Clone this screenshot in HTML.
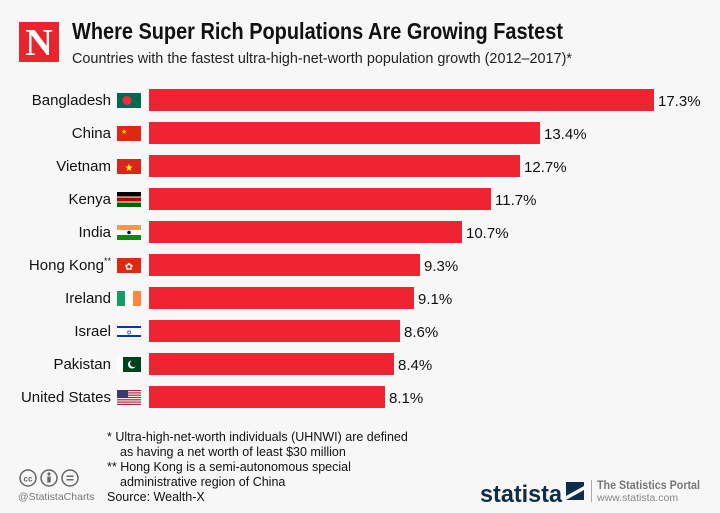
<!DOCTYPE html>
<html><head><meta charset="utf-8"><style>
html,body{margin:0;padding:0;background:#f7f7f7;}
svg{display:block;font-family:"Liberation Sans",sans-serif;}
</style></head><body>
<svg width="720" height="513" viewBox="0 0 720 513">
<rect width="720" height="513" fill="#f7f7f7"/>
<rect x="19" y="22" width="40" height="40" fill="#e8242f"/>
<text x="39" y="55" text-anchor="middle" font-family="Liberation Serif,serif" font-weight="bold" font-size="38" fill="#fff">N</text>
<text x="72" y="39" font-size="23" font-weight="bold" fill="#111" textLength="491" lengthAdjust="spacingAndGlyphs">Where Super Rich Populations Are Growing Fastest</text>
<text x="72" y="63" font-size="15" fill="#222" textLength="500" lengthAdjust="spacingAndGlyphs">Countries with the fastest ultra-high-net-worth population growth (2012–2017)*</text>
<g font-size="15" fill="#111">
<g>
<text x="111" y="105" text-anchor="end">Bangladesh</text>
<rect x="117" y="93" width="24" height="15" fill="#006a4e"/><circle cx="127" cy="100.5" r="4.5" fill="#f42a41"/>
<rect x="149" y="89" width="505" height="22" fill="#ee2432"/><text x="658" y="106">17.3%</text>
</g>
<g>
<text x="111" y="138" text-anchor="end">China</text>
<rect x="117" y="126" width="24" height="15" fill="#de2910"/><text x="121" y="134" font-size="7" fill="#ffde00">★</text>
<rect x="149" y="122" width="391" height="22" fill="#ee2432"/><text x="544" y="139">13.4%</text>
</g>
<g>
<text x="111" y="171" text-anchor="end">Vietnam</text>
<rect x="117" y="159" width="24" height="15" fill="#da251d"/><text x="129" y="171" font-size="10" fill="#ff0" text-anchor="middle">★</text>
<rect x="149" y="155" width="371" height="22" fill="#ee2432"/><text x="524" y="172">12.7%</text>
</g>
<g>
<text x="111" y="204" text-anchor="end">Kenya</text>
<rect x="117" y="192" width="24" height="5" fill="#000"/><rect x="117" y="197" width="24" height="5" fill="#b00"/><rect x="117" y="202" width="24" height="5" fill="#060"/>
<rect x="117" y="196.5" width="24" height="1" fill="#fff"/><rect x="117" y="201.5" width="24" height="1" fill="#fff"/>
<rect x="149" y="188" width="342" height="22" fill="#ee2432"/><text x="495" y="205">11.7%</text>
</g>
<g>
<text x="111" y="237" text-anchor="end">India</text>
<rect x="117" y="225" width="24" height="5" fill="#f93"/><rect x="117" y="230" width="24" height="5" fill="#fff"/><rect x="117" y="235" width="24" height="5" fill="#138808"/><circle cx="129" cy="232.5" r="1.8" fill="#008"/>
<rect x="149" y="221" width="313" height="22" fill="#ee2432"/><text x="466" y="238">10.7%</text>
</g>
<g>
<text x="111" y="270" text-anchor="end">Hong Kong<tspan font-size="9" dy="-6">**</tspan></text>
<rect x="117" y="258" width="24" height="15" fill="#de2910"/><text x="129" y="270" font-size="10" fill="#fff" text-anchor="middle">✿</text>
<rect x="149" y="254" width="271" height="22" fill="#ee2432"/><text x="424" y="271">9.3%</text>
</g>
<g>
<text x="111" y="303" text-anchor="end">Ireland</text>
<rect x="117" y="291" width="8" height="15" fill="#169b62"/><rect x="125" y="291" width="8" height="15" fill="#fff"/><rect x="133" y="291" width="8" height="15" fill="#ff883e"/>
<rect x="149" y="287" width="265" height="22" fill="#ee2432"/><text x="418" y="304">9.1%</text>
</g>
<g>
<text x="111" y="336" text-anchor="end">Israel</text>
<rect x="117" y="324" width="24" height="15" fill="#fff" stroke="#ddd" stroke-width="0.5"/><rect x="117" y="326" width="24" height="2" fill="#0038b8"/><rect x="117" y="335" width="24" height="2" fill="#0038b8"/><text x="129" y="335" font-size="7" fill="#0038b8" text-anchor="middle">✡</text>
<rect x="149" y="320" width="251" height="22" fill="#ee2432"/><text x="404" y="337">8.6%</text>
</g>
<g>
<text x="111" y="369" text-anchor="end">Pakistan</text>
<rect x="117" y="357" width="6" height="15" fill="#fff"/><rect x="123" y="357" width="18" height="15" fill="#01411c"/><circle cx="132" cy="364.5" r="4" fill="#fff"/><circle cx="133.5" cy="363.5" r="3.5" fill="#01411c"/>
<rect x="149" y="353" width="245" height="22" fill="#ee2432"/><text x="398" y="370">8.4%</text>
</g>
<g>
<text x="111" y="402" text-anchor="end">United States</text>
<rect x="117" y="390" width="24" height="15" fill="#fff"/>
<rect x="117" y="390" width="24" height="1.2" fill="#b22234"/><rect x="117" y="392.3" width="24" height="1.2" fill="#b22234"/><rect x="117" y="394.6" width="24" height="1.2" fill="#b22234"/><rect x="117" y="396.9" width="24" height="1.2" fill="#b22234"/><rect x="117" y="399.2" width="24" height="1.2" fill="#b22234"/><rect x="117" y="401.5" width="24" height="1.2" fill="#b22234"/><rect x="117" y="403.8" width="24" height="1.2" fill="#b22234"/>
<rect x="117" y="390" width="11" height="8" fill="#3c3b6e"/>
<rect x="149" y="386" width="236" height="22" fill="#ee2432"/><text x="389" y="403">8.1%</text>
</g>
</g>
<g font-size="12.5" fill="#111">
<text x="107" y="441">*  Ultra-high-net-worth individuals (UHNWI) are defined</text>
<text x="120" y="456">as having a net worth of least $30 million</text>
<text x="107" y="471">** Hong Kong is a semi-autonomous special</text>
<text x="120" y="486">administrative region of China</text>
<text x="107" y="501">Source: Wealth-X</text>
</g>
<g fill="none" stroke="#666" stroke-width="1.5">
<circle cx="28" cy="478" r="8"/><circle cx="49" cy="478" r="8"/><circle cx="70" cy="478" r="8"/>
</g>
<text x="28" y="481.5" font-size="8" fill="#666" text-anchor="middle" font-weight="bold">cc</text>
<circle cx="49" cy="474" r="1.6" fill="#666"/><rect x="47.3" y="476.5" width="3.4" height="6" fill="#666"/>
<rect x="66.5" y="475.5" width="7" height="1.5" fill="#666"/><rect x="66.5" y="479" width="7" height="1.5" fill="#666"/>
<text x="18" y="500" font-size="10.5" fill="#777">@StatistaCharts</text>
<text x="480" y="502" font-size="24" font-weight="bold" fill="#0e2d4a" textLength="82" lengthAdjust="spacingAndGlyphs">statista</text>
<rect x="566" y="482" width="18" height="18" fill="#0e2d4a"/><path d="M566 496 L584 486 L584 490 L566 500Z" fill="#f7f7f7"/>
<rect x="591" y="480" width="1" height="22" fill="#aaa"/>
<text x="597" y="489" font-size="11.5" font-weight="bold" fill="#777" textLength="103" lengthAdjust="spacingAndGlyphs">The Statistics Portal</text>
<text x="597" y="501" font-size="10.5" fill="#888">www.statista.com</text>
</svg>
</body></html>
